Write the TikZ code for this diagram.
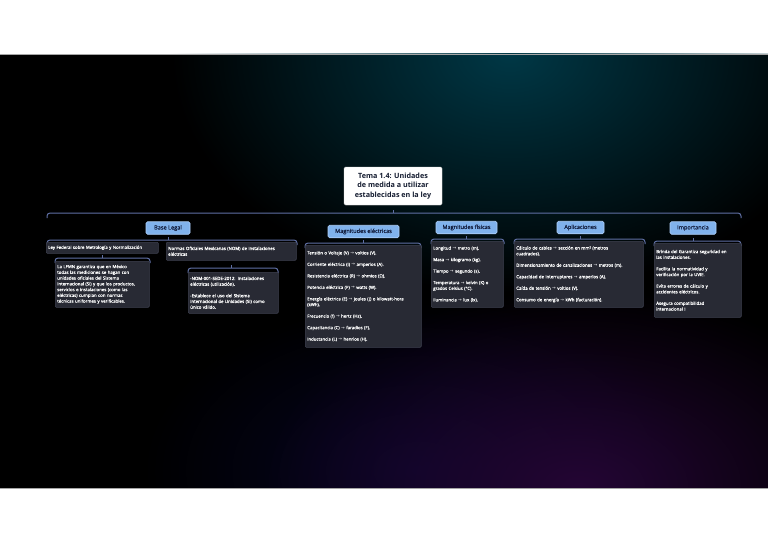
\documentclass[tikz,border=0pt]{standalone}
\usepackage{fontspec}
\setmainfont{Open Sans}
\newfontfamily\leaffont{Open Sans}[FakeBold=0.6]
\newfontfamily\symfont{DejaVu Sans}
\usetikzlibrary{fadings}
\newcommand\rarr{{\symfont →}}
\definecolor{bgteal}{RGB}{0,56,70}
\definecolor{bgpurple}{RGB}{36,6,52}
\definecolor{bgnavy}{RGB}{6,6,36}
\definecolor{leaffill}{RGB}{40,42,52}
\definecolor{leafborder}{RGB}{62,65,80}
\definecolor{topicfill}{RGB}{128,178,236}
\definecolor{topicborder}{RGB}{175,208,250}
\definecolor{topictext}{RGB}{18,28,60}
\definecolor{brkcol}{RGB}{96,112,165}
\definecolor{titletext}{RGB}{20,28,48}
\tikzfading[name=glowfade, inner color=transparent!0, outer color=transparent!100]
\tikzset{
  topic/.style={draw=topicborder, line width=0.6pt, fill=topicfill, rounded corners=1.5pt,
    text=topictext, font=\leaffont\fontsize{5.6}{6.5}\selectfont, inner sep=0pt, minimum height=12.5pt},
  leaf/.style={draw=leafborder, line width=0.5pt, fill=leaffill, rounded corners=1pt,
    text=white, font=\leaffont\fontsize{4.35}{5.75}\selectfont, align=left, anchor=north west,
    inner xsep=2pt, inner ysep=2.5pt},
  brk/.style={draw=brkcol, line width=1pt},
  titlebox/.style={fill=white, draw=white!85!black, rounded corners=1.5pt, text=titletext,
    font=\fontsize{7.2}{9.8}\selectfont\bfseries, align=center, minimum width=98pt, minimum height=38pt, inner sep=2pt}
}
% #1 x-left, #2 x-right, #3 y, #4 parent node
\newcommand\mybracket[4]{%
  \draw[brk, rounded corners=3pt] (#1,#3+5) -- (#1,#3) -- (#2,#3) -- (#2,#3+5);
  \draw[brk] (#4.south |- 0,#3) -- ++(0,-3.5);
}
\begin{document}
\begin{tikzpicture}[x=1pt,y=-1pt]
\useasboundingbox (0,0) rectangle (768,543);
\fill[white] (0,0) rectangle (768,543);
\begin{scope}
  \clip (0,54) rectangle (768,488);
  \fill[black] (0,54) rectangle (768,488);
  \fill[bgnavy, path fading=glowfade] (420,470) ellipse (280 and 170);
  \fill[bgteal, path fading=glowfade] (510,54) ellipse (340 and 240);
  \fill[bgpurple, path fading=glowfade] (580,488) ellipse (320 and 200);
\end{scope}
\draw[gray!70, line width=0.5pt] (0,54) -- (768,54);
\draw[gray!70, line width=0.5pt] (0,488) -- (768,488);

% title
\node[titlebox] (title) at (393,186) {Tema 1.4: Unidades\\de medida a utilizar\\establecidas en la ley};

% topics
\node[topic, minimum width=44pt] (base) at (168,228) {Base Legal};
\node[topic, minimum width=71pt] (mel) at (363.5,231.5) {Magnitudes eléctricas};
\node[topic, minimum width=61pt] (mfi) at (466.5,227.5) {Magnitudes físicas};
\node[topic, minimum width=47pt] (apl) at (580.5,227.5) {Aplicaciones};
\node[topic, minimum width=46pt] (imp) at (693,228) {Importancia};

\mybracket{47}{741}{213}{title}

% Base legal
\mybracket{47}{297}{240}{base}
\node[leaf, text width=108pt, minimum height=11pt] (ley) at (46,242) {Ley Federal sobre Metrología y Normalización};
\node[leaf, text width=126pt, minimum height=18pt] (nom) at (166,242) {Normas Oficiales Mexicanas (NOM) de instalaciones\\eléctricas};

\mybracket{55}{150}{258}{ley}
\node[leaf, text width=90pt, minimum height=46pt] (lfmn) at (55,261) {La LFMN garantiza que en México\\todas las mediciones se hagan con\\unidades oficiales del Sistema\\Internacional (SI) y que los productos,\\servicios e instalaciones (como las\\eléctricas) cumplan con normas\\técnicas uniformes y verificables.};

\mybracket{188}{278}{268}{nom}
\node[leaf, text width=86pt, minimum height=41pt] (nom001) at (188,272) {-NOM-001-SEDE-2012: Instalaciones\\eléctricas (utilización).\\[5.75pt]-Establece el uso del Sistema\\Internacional de Unidades (SI) como\\único válido.};

% Magnitudes electricas
\mybracket{305}{421}{243}{mel}
\node[leaf, text width=112pt, minimum height=102pt] (melbox) at (305,245) {%
Tensión o Voltaje (V) \rarr{} voltios (V).\\[5.75pt]
Corriente eléctrica (I) \rarr{} amperios (A).\\[5.75pt]
Resistencia eléctrica (R) \rarr{} ohmios (Ω).\\[5.75pt]
Potencia eléctrica (P) \rarr{} watts (W).\\[5.75pt]
Energía eléctrica (E) \rarr{} joules (J) o kilowatt-hora\\(kWh).\\[5.75pt]
Frecuencia (f) \rarr{} hertz (Hz).\\[5.75pt]
Capacitancia (C) \rarr{} faradios (F).\\[5.75pt]
Inductancia (L) \rarr{} henrios (H).};

% Magnitudes fisicas
\mybracket{431}{504}{239}{mfi}
\node[leaf, text width=68pt, minimum height=66pt] (mfibox) at (431,241) {%
Longitud \rarr{} metro (m).\\[5.75pt]
Masa \rarr{} kilogramo (kg).\\[5.75pt]
Tiempo \rarr{} segundo (s).\\[5.75pt]
Temperatura \rarr{} kelvin (K) o\\grados Celsius (°C).\\[5.75pt]
Iluminancia \rarr{} lux (lx).};

% Aplicaciones
\mybracket{514}{645}{239}{apl}
\node[leaf, text width=125pt, minimum height=66pt] (aplbox) at (514,241) {%
Cálculo de cables \rarr{} sección en mm² (metros\\cuadrados).\\[5.75pt]
Dimensionamiento de canalizaciones \rarr{} metros (m).\\[5.75pt]
Capacidad de interruptores \rarr{} amperios (A).\\[5.75pt]
Caída de tensión \rarr{} voltios (V).\\[5.75pt]
Consumo de energía \rarr{} kWh (facturación).};

% Importancia
\mybracket{654}{741}{241}{imp}
\node[leaf, text width=83pt, minimum height=74pt] (impbox) at (654,243) {%
Brinda del Garantiza seguridad en\\las instalaciones.\\[5.75pt]
Facilita la normatividad y\\verificación por la UVIE.\\[5.75pt]
Evita errores de cálculo y\\accidentes eléctricos.\\[5.75pt]
Asegura compatibilidad\\internacional !};
\end{tikzpicture}
\end{document}
